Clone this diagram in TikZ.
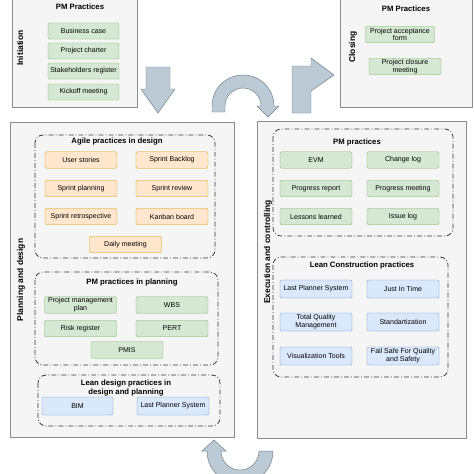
\documentclass[tikz,border=0pt]{standalone}
\usepackage{fontspec}
\setmainfont{Liberation Sans}
\definecolor{greenfill}{HTML}{D5E8D4}
\definecolor{greendraw}{HTML}{82B366}
\definecolor{orangefill}{HTML}{FFE6CC}
\definecolor{orangedraw}{HTML}{D79B00}
\definecolor{bluefill}{HTML}{DAE8FC}
\definecolor{bluedraw}{HTML}{6C8EBF}
\definecolor{phasefill}{HTML}{F5F5F5}
\definecolor{phasedraw}{HTML}{8C8C8C}
\definecolor{arrowfill}{HTML}{BCCAD6}
\definecolor{arrowdraw}{HTML}{6F7F8C}
\begin{document}
\begin{tikzpicture}[x=0.05cm,y=-0.05cm,
		pbox/.style={draw,rounded corners=2pt,line width=0.6pt,minimum width=3.6cm,minimum height=0.825cm,inner sep=1pt,align=center,font=\fontsize{10}{11}\selectfont},
		gbox/.style={pbox,fill=greenfill,draw=greendraw},
		obox/.style={pbox,fill=orangefill,draw=orangedraw},
		bbox/.style={pbox,fill=bluefill,draw=bluedraw,minimum height=0.9cm},
		phasebox/.style={fill=phasefill,draw=phasedraw,line width=0.8pt},
		groupbox/.style={draw=black!80,line width=1.1pt,rounded corners=0.4cm,dash pattern=on 7pt off 3pt on 1.2pt off 3pt},
		grouptitle/.style={font=\fontsize{11}{12}\bfseries\selectfont,align=center},
		phaselabel/.style={rotate=90,font=\fontsize{12}{13}\bfseries\selectfont},
		blockarrow/.style={fill=arrowfill,draw=arrowdraw,line width=0.7pt,line join=miter}]
			\useasboundingbox (0,0) rectangle (474,474);
			\draw[phasebox] (12,-3) rectangle (137,107);
			\draw (20,48) node [phaselabel] (ini) {Initiation};
			\draw (80,7) node [grouptitle] (inipm) {PM Practices};
			\draw (83.5,31) node [gbox,minimum width=3.55cm,minimum height=0.8cm] (bc) {Business case};
			\draw (83.5,51) node [gbox,minimum width=3.55cm,minimum height=0.8cm] (pc) {Project charter};
			\draw (83.5,71) node [gbox,minimum width=3.55cm,minimum height=0.8cm] (sh) {Stakeholders register};
			\draw (83.5,92) node [gbox,minimum width=3.55cm,minimum height=0.8cm] (km) {Kickoff meeting};
			\draw[phasebox] (340,-3) rectangle (472,107);
			\draw (353,47) node [phaselabel] (clo) {Closing};
			\draw (406,9) node [grouptitle] (clopm) {PM Practices};
			\draw (400,34.5) node [gbox,minimum width=3.45cm] (paf) {Project acceptance\\form};
			\draw (405,66.5) node [gbox,minimum width=3.6cm] (pcm) {Project closure\\meeting};
			\draw[phasebox] (10,122) rectangle (234,437);
			\draw (21,280) node [phaselabel] (pld) {Planning and design};
			\draw[groupbox] (35,135) rectangle (215,258);
			\draw (117,142) node [grouptitle] (agile) {Agile practices in design};
			\draw (81,160) node [obox] (us) {User stories};
			\draw (172,160) node [obox] (sb) {Sprint Backlog};
			\draw (81,188.5) node [obox] (sp) {Sprint planning};
			\draw (172,188.5) node [obox] (sr) {Sprint review};
			\draw (81,216.5) node [obox] (sre) {Sprint retrospective};
			\draw (172,216.5) node [obox] (kb) {Kanban board};
			\draw (125.5,244.5) node [obox] (dm) {Daily meeting};
			\draw[groupbox] (35,272) rectangle (218,365);
			\draw (132,283) node [grouptitle] (pmplan) {PM practices in planning};
			\draw (80.5,305) node [gbox] (pmp) {Project management\\plan};
			\draw (172,305) node [gbox] (wbs) {WBS};
			\draw (80.5,328.5) node [gbox] (rr) {Risk register};
			\draw (172,328.5) node [gbox] (pert) {PERT};
			\draw (127,350) node [gbox] (pmis) {PMIS};
			\draw[groupbox] (38,375) rectangle (220,426);
			\draw (126,388) node [grouptitle] (leand) {Lean design practices in\\design and planning};
			\draw (77.5,406) node [bbox,minimum width=3.55cm] (bim) {BIM};
			\draw (173,406) node [bbox] (lpsd) {Last Planner System};
			\draw[phasebox] (257,121) rectangle (466,438);
			\draw (268,252) node [phaselabel] (exc) {Execution and controlling};
			\draw[groupbox] (273,129) rectangle (453,236);
			\draw (357,142) node [grouptitle] (excpm) {PM practices};
			\draw (316,160) node [gbox] (evm) {EVM};
			\draw (403,160) node [gbox] (cl) {Change log};
			\draw (316,188.5) node [gbox] (pr) {Progress report};
			\draw (403,188.5) node [gbox] (pm) {Progress meeting};
			\draw (316,216.5) node [gbox] (ll) {Lessons learned};
			\draw (403,216.5) node [gbox] (il) {Issue log};
			\draw[groupbox] (273,257) rectangle (448,377);
			\draw (362,265) node [grouptitle] (leanc) {Lean Construction practices};
			\draw (316,289) node [bbox] (lpsc) {Last Planner System};
			\draw (403,289) node [bbox] (jit) {Just In Time};
			\draw (316,322) node [bbox] (tqm) {Total Quality\\Management};
			\draw (403,322) node [bbox] (std) {Standartization};
			\draw (316,356) node [bbox] (vt) {Visualization Tools};
			\draw (403,356) node [bbox] (fs) {Fail Safe For Quality\\and Safety};
			\draw[blockarrow] (146,67) -- (170,67) -- (170,89) -- (175,89) -- (158,113) -- (141,89) -- (146,89) -- cycle;
			\draw[blockarrow] (212,112) -- (212,106) arc[start angle=180,end angle=360,radius=31] -- (279,106) -- (268,117) -- (257,106) -- (261,106) arc[start angle=360,end angle=180,radius=18] -- (225,112) -- cycle;
			\draw[blockarrow] (292,113) -- (292,66) -- (311,66) -- (311,58) -- (334,75) -- (311,91) -- (311,113) -- cycle;
			\draw[blockarrow] (273,451) arc[start angle=0,end angle=180,radius=33] -- (202,451) -- (214,440) -- (226,451) -- (221,451) arc[start angle=180,end angle=0,radius=19] -- cycle;
		\end{tikzpicture}
\end{document}
